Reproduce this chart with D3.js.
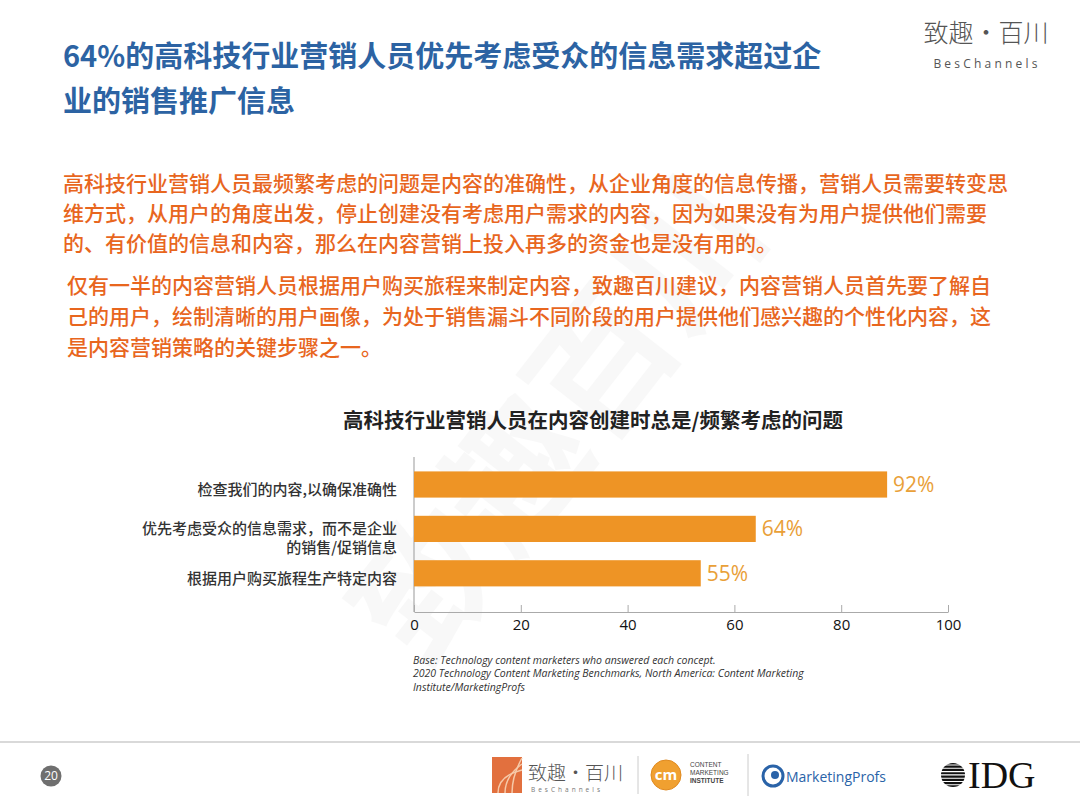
<!DOCTYPE html>
<html>
<head>
<meta charset="utf-8">
<script src="https://cdn.jsdelivr.net/npm/d3@7"></script>
<style>
  body { margin: 0; background: #fff; }
  svg { display: block; font-family: "Noto Sans CJK SC", "Noto Sans", sans-serif; }
</style>
</head>
<body>
<svg id="canvas"></svg>
<script>
// chart data
const categories = [
    ["检查我们的内容,以确保准确性"],
    ["优先考虑受众的信息需求，而不是企业", "的销售/促销信息"],
    ["根据用户购买旅程生产特定内容"]
];
// bar lengths as drawn in the picture (labels differ slightly from drawn length)
const barValues = [88.6, 64, 53.7];
const valueLabels = ["92%", "64%", "55%"];
const xTicks = [0, 20, 40, 60, 80, 100];

const titleLines = ["64%的高科技行业营销人员优先考虑受众的信息需求超过企", "业的销售推广信息"];
const para1 = [
    "高科技行业营销人员最频繁考虑的问题是内容的准确性，从企业角度的信息传播，营销人员需要转变思",
    "维方式，从用户的角度出发，停止创建没有考虑用户需求的内容，因为如果没有为用户提供他们需要",
    "的、有价值的信息和内容，那么在内容营销上投入再多的资金也是没有用的。"
];
const para2 = [
    "仅有一半的内容营销人员根据用户购买旅程来制定内容，致趣百川建议，内容营销人员首先要了解自",
    "己的用户，绘制清晰的用户画像，为处于销售漏斗不同阶段的用户提供他们感兴趣的个性化内容，这",
    "是内容营销策略的关键步骤之一。"
];
const chartTitle = "高科技行业营销人员在内容创建时总是/频繁考虑的问题";
const notes = [
    "Base: Technology content marketers who answered each concept.",
    "2020 Technology Content Marketing Benchmarks, North America: Content Marketing",
    "Institute/MarketingProfs"
];

const W = 1080, H = 810;
const plot = {left: 414, right: 948, top: 457, bottom: 612};

const svg = d3.select("#canvas").attr("width", W).attr("height", H);

// faint watermark
svg.append("text")
    .attr("transform", "translate(560,420) rotate(-52)")
    .attr("text-anchor", "middle")
    .attr("dy", "0.35em")
    .attr("font-size", 140)
    .attr("font-weight", 700)
    .attr("fill", "#000")
    .attr("opacity", 0.025)
    .text("致趣百川");

// header
svg.append("g")
    .selectAll("text")
    .data(titleLines)
    .join("text")
    .attr("x", 63)
    .attr("y", (d, i) => 67 + i * 45)
    .attr("font-size", 29)
    .attr("font-weight", 700)
    .attr("fill", "#2C63A3")
    .text(d => d);

svg.append("text")
    .attr("x", 986).attr("y", 42)
    .attr("text-anchor", "middle")
    .attr("font-size", 25)
    .attr("font-weight", 300)
    .attr("fill", "#555")
    .text("致趣·百川");
svg.append("text")
    .attr("x", 987).attr("y", 68)
    .attr("text-anchor", "middle")
    .attr("font-family", "Open Sans")
    .attr("font-size", 12)
    .attr("letter-spacing", 3.2)
    .attr("fill", "#555")
    .text("BesChannels");

// orange paragraphs
const addPara = (lines, x, y0, step) => {
    svg.append("g")
        .selectAll("text")
        .data(lines)
        .join("text")
        .attr("x", x)
        .attr("y", (d, i) => y0 + i * step)
        .attr("font-size", 21)
        .attr("font-weight", 500)
        .attr("fill", "#E8661E")
        .text(d => d);
};
addPara(para1, 63, 191, 30);
addPara(para2, 67, 293, 31);

// chart
const x = d3.scaleLinear().domain([0, 100]).range([plot.left, plot.right]);
const y = d3.scaleBand()
    .domain(d3.range(categories.length))
    .range([462.3, 595.5])
    .paddingInner(0.41)
    .paddingOuter(0.205);

svg.append("text")
    .attr("x", 593).attr("y", 428)
    .attr("text-anchor", "middle")
    .attr("font-size", 20.5)
    .attr("font-weight", 700)
    .attr("fill", "#222")
    .text(chartTitle);

svg.append("line")
    .attr("x1", plot.left).attr("x2", plot.left)
    .attr("y1", plot.top).attr("y2", plot.bottom)
    .attr("stroke", "#aaa").attr("stroke-width", 1.2);

const xAxis = svg.append("g")
    .attr("transform", "translate(0," + plot.bottom + ")")
    .call(d3.axisBottom(x).tickValues(xTicks).tickSizeInner(-7).tickSizeOuter(0).tickPadding(7));
xAxis.select(".domain").attr("stroke", "#aaa").attr("stroke-width", 1.2);
xAxis.selectAll(".tick line").attr("stroke", "#aaa");
xAxis.selectAll(".tick text")
    .attr("font-family", "Open Sans")
    .attr("font-size", 15)
    .attr("fill", "#111");

svg.append("g")
    .selectAll("rect")
    .data(barValues)
    .join("rect")
    .attr("x", x(0))
    .attr("y", (d, i) => y(i))
    .attr("width", d => x(d) - x(0))
    .attr("height", y.bandwidth())
    .attr("fill", "#EE9425");

svg.append("g")
    .selectAll("text")
    .data(barValues)
    .join("text")
    .attr("x", d => x(d) + 6)
    .attr("y", (d, i) => y(i) + y.bandwidth() / 2)
    .attr("dy", "0.36em")
    .attr("font-family", "Open Sans")
    .attr("font-size", 21)
    .attr("fill", "#E9A038")
    .text((d, i) => valueLabels[i]);

const catG = svg.append("g")
    .attr("font-size", 15)
    .attr("font-weight", 500)
    .attr("fill", "#333")
    .attr("text-anchor", "end");
categories.forEach((lines, i) => {
    const cy = y(i) + y.bandwidth() / 2;
    const start = lines.length === 1 ? cy + 5 : cy;
    catG.append("text")
        .selectAll("tspan")
        .data(lines)
        .join("tspan")
        .attr("x", 397)
        .attr("y", (d, j) => start + j * 19)
        .attr("dy", "0.36em")
        .text(d => d);
});

svg.append("g")
    .selectAll("text")
    .data(notes)
    .join("text")
    .attr("x", 413)
    .attr("y", (d, i) => 664 + i * 13.3)
    .attr("font-family", "Open Sans")
    .attr("font-style", "italic")
    .attr("font-size", 10.5)
    .attr("fill", "#333")
    .text(d => d);

// footer
svg.append("line")
    .attr("x1", 0).attr("x2", W).attr("y1", 742).attr("y2", 742)
    .attr("stroke", "#d9d9d9").attr("stroke-width", 2);
svg.append("circle").attr("cx", 51).attr("cy", 776).attr("r", 10.5).attr("fill", "#6f6f6f");
svg.append("text")
    .attr("x", 51).attr("y", 776).attr("dy", "0.35em")
    .attr("text-anchor", "middle")
    .attr("font-family", "Open Sans")
    .attr("font-size", 12)
    .attr("fill", "#fff")
    .text("20");

const logo = svg.append("g");
logo.append("rect").attr("x", 492).attr("y", 757).attr("width", 30).attr("height", 36).attr("fill", "#E2703E");
[0, 1, 2].forEach(k => {
    logo.append("path")
        .attr("d", `M${498 + k * 7},793 Q${498 + k * 7},776 ${522},${770 - k * 6}`)
        .attr("fill", "none").attr("stroke", "#F6C9A8").attr("stroke-width", 1.5);
});
logo.append("text").attr("x", 528).attr("y", 780).attr("font-size", 19).attr("font-weight", 300).attr("fill", "#555").text("致趣·百川");
logo.append("text").attr("x", 531).attr("y", 792).attr("font-family", "Open Sans").attr("font-size", 6.5).attr("letter-spacing", 3).attr("fill", "#777").text("BesChannels");
logo.append("line").attr("x1", 638).attr("x2", 638).attr("y1", 756).attr("y2", 794).attr("stroke", "#ccc");
logo.append("circle").attr("cx", 666).attr("cy", 775).attr("r", 15).attr("fill", "#F0A030").attr("stroke", "#E08A20");
logo.append("text").attr("x", 666).attr("y", 775).attr("dy", "0.35em").attr("text-anchor", "middle")
    .attr("font-family", "Open Sans").attr("font-weight", 700).attr("font-size", 15).attr("fill", "#fff").text("cm");
["CONTENT", "MARKETING", "INSTITUTE"].forEach((t, i) => {
    logo.append("text").attr("x", 690).attr("y", 767 + i * 8).attr("font-family", "Liberation Sans Narrow, Liberation Sans")
        .attr("font-size", 6.5).attr("font-weight", i === 2 ? 700 : 400).attr("fill", "#444").text(t);
});
logo.append("line").attr("x1", 748).attr("x2", 748).attr("y1", 754).attr("y2", 796).attr("stroke", "#ccc");
logo.append("circle").attr("cx", 773).attr("cy", 776).attr("r", 10).attr("fill", "#fff").attr("stroke", "#2A63A8").attr("stroke-width", 3);
logo.append("circle").attr("cx", 775).attr("cy", 775).attr("r", 4).attr("fill", "#2A63A8");
logo.append("text").attr("x", 786).attr("y", 782).attr("font-family", "Open Sans").attr("font-size", 14).attr("fill", "#2A63A8").text("MarketingProfs");
logo.append("circle").attr("cx", 953).attr("cy", 775).attr("r", 12).attr("fill", "#111");
d3.range(7).forEach(k => {
    logo.append("line").attr("x1", 936).attr("x2", 970).attr("y1", 765 + k * 3.3).attr("y2", 765 + k * 3.3)
        .attr("stroke", "#fff").attr("stroke-width", 1.1);
});
logo.append("text").attr("x", 968).attr("y", 788).attr("font-family", "Liberation Serif").attr("font-size", 38).attr("fill", "#111").text("IDG");
</script>
</body>
</html>
